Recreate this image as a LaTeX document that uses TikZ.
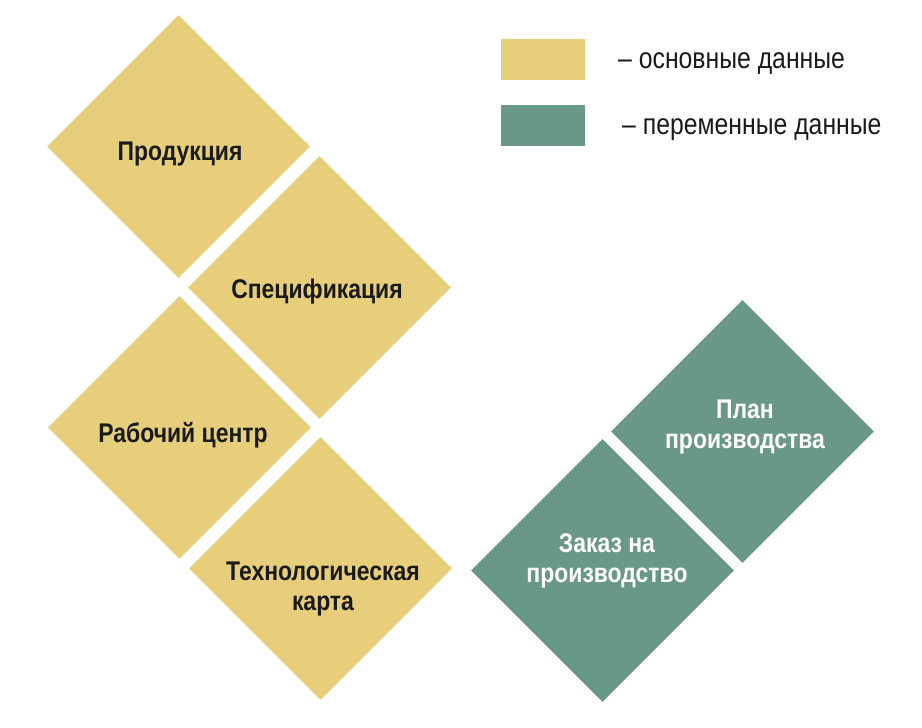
\documentclass[tikz,border=0pt]{standalone}
\usetikzlibrary{shapes.geometric}
\usepackage{fontspec}
\setmainfont{Liberation Sans}
\newfontfamily\lblfont[FakeStretch=0.85]{Liberation Sans Bold}
\newfontfamily\legfont[FakeStretch=0.84]{Liberation Sans}
\definecolor{basecol}{HTML}{E6CE7A}
\definecolor{varcol}{HTML}{6A9888}
\definecolor{txtcol}{HTML}{1A1A1A}
\begin{document}
\begin{tikzpicture}[x=1pt,y=-1pt,
  dia/.style={shape=diamond, draw=none, minimum width=263pt, minimum height=263pt, inner sep=0pt, aspect=1},
  basedia/.style={dia, fill=basecol},
  vardia/.style={dia, fill=varcol},
  lbl/.style={font=\lblfont\fontsize{27}{30}\selectfont, text=txtcol, align=center, inner sep=0pt},
  wlbl/.style={lbl, text=white},
  leg/.style={font=\legfont\fontsize{29.5}{32}\selectfont, text=txtcol, anchor=west, inner sep=0pt},
  legbox/.style={minimum width=84pt, minimum height=41pt, inner sep=0pt, draw=none}
]
\useasboundingbox (0,0) rectangle (922,728);
\node[basedia] (d1) at (178.5,146.5) {};
\node[basedia] (d2) at (319.5,287.5) {};
\node[basedia] (d3) at (179.5,427.5) {};
\node[basedia] (d4) at (320.5,568.5) {};
\node[vardia] (d5) at (742.5,431.5) {};
\node[vardia] (d6) at (602.5,570.5) {};

\node[lbl] (t1) at (180,154) {Продукция};
\node[lbl] (t2) at (317,292) {Спецификация};
\node[lbl] (t3) at (183,435) {Рабочий центр};
\node[lbl] (t4) at (323,589) {Технологическая\\карта};
\node[wlbl] (t5) at (745,427) {План\\производства};
\node[wlbl] (t6) at (607,560.5) {Заказ на\\производство};

\node[legbox, fill=basecol] (l1) at (543,59.5) {};
\node[legbox, fill=varcol] (l2) at (543,125) {};
\node[leg] (lt1) at (618,64) {– основные данные};
\node[leg] (lt2) at (622,130) {– переменные данные};
\end{tikzpicture}
\end{document}
